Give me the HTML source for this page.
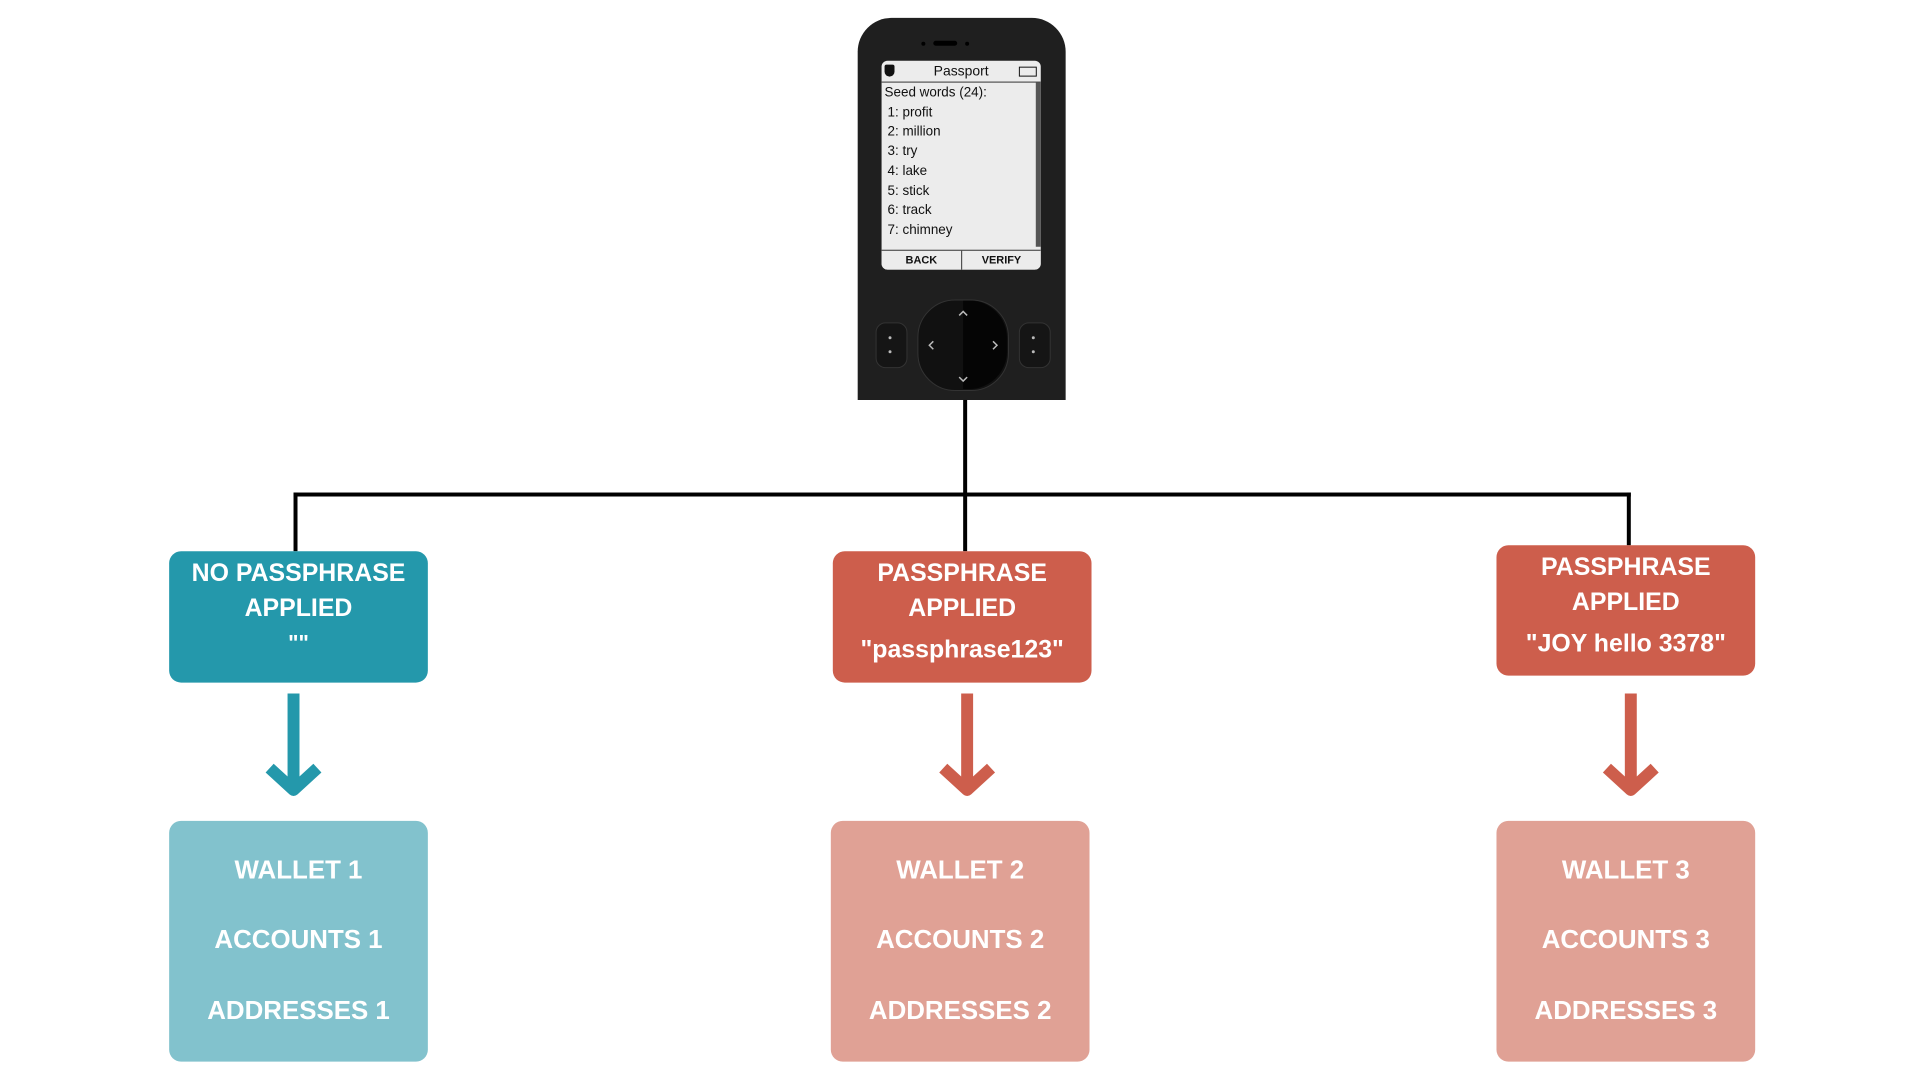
<!DOCTYPE html>
<html><head><meta charset="utf-8"><style>
html,body{margin:0;padding:0;background:#fff;width:1920px;height:1080px;overflow:hidden;position:relative;font-family:"Liberation Sans",sans-serif}
#root{position:absolute;left:0;top:0;width:1920px;height:1080px;transform:scale(0.995);transform-origin:0 0}
.abs{position:absolute}
.box{position:absolute;border-radius:12px;color:#fff;font-weight:bold;text-align:center}
.t{position:absolute;left:0;right:0;font-size:25px;line-height:30px}
.w{position:absolute;left:0;right:0;font-size:26px;line-height:30px}
.scr div{font-size:13.5px;line-height:19.7px;color:#111;padding-left:6px;white-space:nowrap}
</style></head><body><div id="root">
<!-- device -->
<div class="abs" style="left:862px;top:18px;width:209px;height:384px;background:#1f1f1f;border-radius:34px 34px 0 0"></div>
<div class="abs" style="left:938px;top:41px;width:24px;height:5px;background:#000;border-radius:3px"></div>
<div class="abs" style="left:926px;top:42px;width:4px;height:4px;background:#000;border-radius:2px"></div>
<div class="abs" style="left:970px;top:42px;width:4px;height:4px;background:#000;border-radius:2px"></div>
<div class="abs scr" style="left:886px;top:61px;width:160px;height:210px;background:#ececec;border-radius:6px;overflow:hidden">
 <div style="height:21px;border-bottom:1px solid #333;position:relative;text-align:center;padding:0;font-size:14px;line-height:21px">Passport
  <span style="position:absolute;left:3px;top:4px;width:10px;height:12px;background:#111;border-radius:2px 2px 5px 5px"></span>
  <span style="position:absolute;right:4px;top:6px;width:16px;height:8px;border:1px solid #111"></span></div>
 <div style="padding-left:3px">Seed words (24):</div>
 <div>1: profit</div><div>2: million</div><div>3: try</div><div>4: lake</div><div>5: stick</div><div>6: track</div><div>7: chimney</div>
 <div class="abs" style="left:155px;top:22px;width:2px;height:165px;background:#555"></div>
 <div class="abs" style="left:0;top:190px;width:160px;height:20px;border-top:1px solid #333;background:#ececec;font-size:11px;font-weight:bold;line-height:20px;padding:0">
  <span class="abs" style="left:0;width:80px;text-align:center">BACK</span>
  <span class="abs" style="left:80px;width:1px;height:20px;background:#333"></span>
  <span class="abs" style="left:81px;width:79px;text-align:center">VERIFY</span></div>
</div>
<div class="abs" style="left:922px;top:301px;width:90px;height:90px;background:#111;border-radius:38px;border:1px solid #333"></div>
<div class="abs" style="left:968px;top:302px;width:44px;height:89px;background:#050505;border-radius:0 38px 38px 0"></div>
<div class="abs" style="left:880px;top:324px;width:30px;height:44px;background:#151515;border:1px solid #333;border-radius:10px"></div>
<div class="abs" style="left:1024px;top:324px;width:30px;height:44px;background:#151515;border:1px solid #333;border-radius:10px"></div>
<div class="abs" style="left:893px;top:338px;width:3px;height:3px;background:#bbb;border-radius:2px"></div>
<div class="abs" style="left:893px;top:352px;width:3px;height:3px;background:#bbb;border-radius:2px"></div>
<div class="abs" style="left:1037px;top:338px;width:3px;height:3px;background:#bbb;border-radius:2px"></div>
<div class="abs" style="left:1037px;top:352px;width:3px;height:3px;background:#bbb;border-radius:2px"></div>
<svg class="abs" style="left:922px;top:301px" width="92" height="92"><g fill="none" stroke="#bbb" stroke-width="1.5">
<path d="M42 16 L46 12 L50 16"/><path d="M42 78 L46 82 L50 78"/><path d="M16 42 L12 46 L16 50"/><path d="M76 42 L80 46 L76 50"/></g></svg>
<!-- connectors -->
<div class="abs" style="left:968px;top:402px;width:4px;height:152px;background:#000"></div>
<div class="abs" style="left:295px;top:495px;width:1344px;height:4px;background:#000"></div>
<div class="abs" style="left:295px;top:495px;width:4px;height:59px;background:#000"></div>
<div class="abs" style="left:1635px;top:495px;width:4px;height:53px;background:#000"></div>
<!-- top boxes -->
<div class="box" style="left:170px;top:554px;width:260px;height:132px;background:#2498ab">
 <div class="t" style="top:7px">NO PASSPHRASE</div><div class="t" style="top:42px">APPLIED</div><div class="t" style="top:78px;font-size:22px">""</div></div>
<div class="box" style="left:837px;top:554px;width:260px;height:132px;background:#cd5e4c">
 <div class="t" style="top:7px">PASSPHRASE</div><div class="t" style="top:42px">APPLIED</div><div class="t" style="top:84px">"passphrase123"</div></div>
<div class="box" style="left:1504px;top:548px;width:260px;height:131px;background:#cd5e4c">
 <div class="t" style="top:7px">PASSPHRASE</div><div class="t" style="top:42px">APPLIED</div><div class="t" style="top:84px">"JOY hello 3378"</div></div>
<!-- arrows -->
<svg class="abs" style="left:0;top:0" width="1920" height="1080">
 <g fill="none" stroke-width="12" stroke-linejoin="round">
  <path d="M295 697 V795 M271 772 L295 794 L319 772" stroke="#2498ab"/>
  <path d="M972 697 V795 M948 772 L972 794 L996 772" stroke="#cd5e4c"/>
  <path d="M1639 697 V795 M1615 772 L1639 794 L1663 772" stroke="#cd5e4c"/>
 </g></svg>
<!-- wallet boxes -->
<div class="box" style="left:170px;top:825px;width:260px;height:242px;background:#82c2cd">
 <div class="w" style="top:34px">WALLET 1</div><div class="w" style="top:104px">ACCOUNTS 1</div><div class="w" style="top:175px">ADDRESSES 1</div></div>
<div class="box" style="left:835px;top:825px;width:260px;height:242px;background:#e0a195">
 <div class="w" style="top:34px">WALLET 2</div><div class="w" style="top:104px">ACCOUNTS 2</div><div class="w" style="top:175px">ADDRESSES 2</div></div>
<div class="box" style="left:1504px;top:825px;width:260px;height:242px;background:#e0a195">
 <div class="w" style="top:34px">WALLET 3</div><div class="w" style="top:104px">ACCOUNTS 3</div><div class="w" style="top:175px">ADDRESSES 3</div></div>
</div></body></html>
